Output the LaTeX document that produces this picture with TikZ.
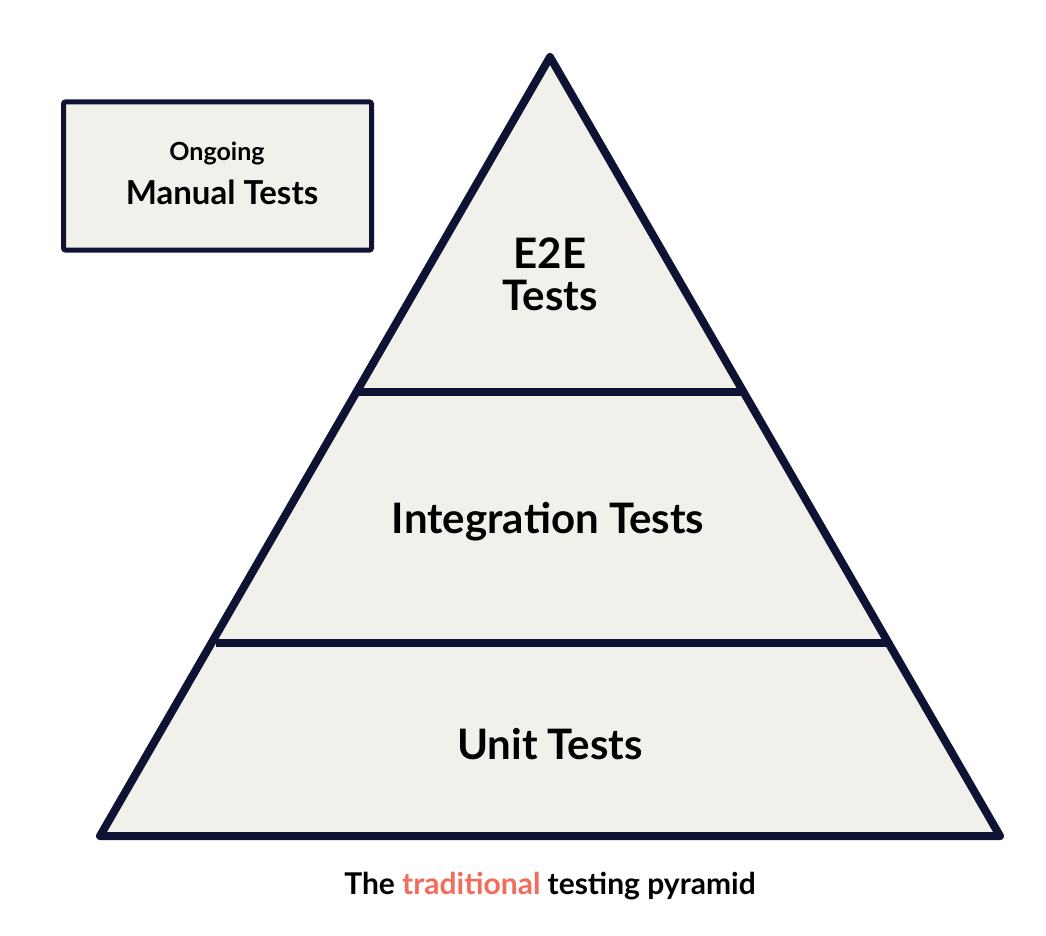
\documentclass[tikz,border=0pt]{standalone}
\usepackage{fontspec}
\setmainfont{Lato}
\definecolor{navy}{HTML}{0E1233}
\definecolor{paper}{HTML}{F2F0EA}
\definecolor{coral}{HTML}{F26B5B}
\begin{document}
\begin{tikzpicture}[x=1pt,y=-1pt,
  lbl/.style={font=\bfseries\fontsize{42}{48}\selectfont,text=black,align=center},
  edge/.style={draw=navy,line width=8pt}]
\useasboundingbox (0,0) rectangle (1046,936);
\coordinate (apex) at (550,57);
\coordinate (bl) at (100,836);
\coordinate (br) at (1000,836);
\coordinate (l1) at (358,392);
\coordinate (r1) at (742,392);
\coordinate (l2) at (216,643);
\coordinate (r2) at (886,643);
\fill[paper] (apex)--(bl)--(br)--cycle;
\draw[edge] (l1)--(r1);
\draw[edge] (l2)--(r2);
\draw[edge,line join=round] (apex)--(bl)--(br)--cycle;
\node[draw=navy,line width=5pt,fill=paper,rounded corners=2pt,minimum width=308pt,minimum height=148pt] (box) at (217.5,176) {};
\node[font=\bfseries\fontsize{25}{30}\selectfont] (ong) at (217,153) {Ongoing};
\node[font=\bfseries\fontsize{33}{38}\selectfont] (man) at (222,192) {Manual Tests};
\node[lbl] (e2e) at (550,274) {E2E\\[-6pt]Tests};
\node[lbl] (int) at (548,522) {Integration Tests};
\node[lbl] (unit) at (550,744) {Unit Tests};
\node[font=\bfseries\fontsize{30}{36}\selectfont] (cap) at (550,886) {The \textcolor{coral}{traditional} testing pyramid};
\end{tikzpicture}
\end{document}
